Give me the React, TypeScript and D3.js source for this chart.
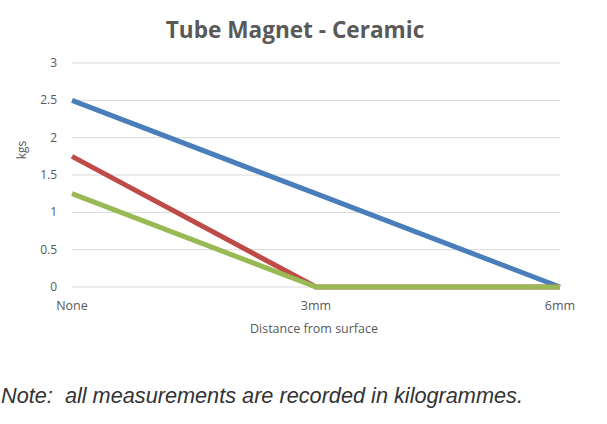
import React, { useRef, useEffect } from 'react';
import * as d3 from 'd3';

const categories = ['None', '3mm', '6mm'];
const yTicks = [0, 0.5, 1, 1.5, 2, 2.5, 3];
const blueSeries = [2.5, 1.25, 0];
const redSeries = [1.75, 0, 0];
const greenSeries = [1.25, 0, 0];
const seriesColors = ['#4a7ebb', '#be4b48', '#98b954'];

function App() {
  const svgRef = useRef<SVGSVGElement>(null);

  useEffect(() => {
    const svg = d3.select(svgRef.current);
    svg.selectAll('*').remove();

    const width = 607;
    const height = 424;
    const margin = { top: 63, right: 47, bottom: 137, left: 72 };

    svg.attr('width', width).attr('height', height);

    const x = d3.scalePoint<string>()
      .domain(categories)
      .range([margin.left, width - margin.right]);

    const y = d3.scaleLinear()
      .domain([0, 3])
      .range([height - margin.bottom, margin.top]);

    const font = "'Open Sans', 'DejaVu Sans', sans-serif";

    // gridlines
    svg.append('g')
      .selectAll('line')
      .data(yTicks)
      .enter()
      .append('line')
      .attr('x1', margin.left)
      .attr('x2', width - margin.right)
      .attr('y1', d => y(d))
      .attr('y2', d => y(d))
      .attr('stroke', '#d9d9d9')
      .attr('stroke-width', 1);

    // y tick labels
    svg.append('g')
      .selectAll('text')
      .data(yTicks)
      .enter()
      .append('text')
      .attr('x', 57)
      .attr('y', d => y(d) + 4)
      .attr('text-anchor', 'end')
      .style('font-family', font)
      .style('font-size', '12px')
      .attr('fill', '#595959')
      .text(d => String(d));

    // x labels
    svg.append('g')
      .selectAll('text')
      .data(categories)
      .enter()
      .append('text')
      .attr('x', d => x(d)!)
      .attr('y', 310)
      .attr('text-anchor', 'middle')
      .style('font-family', font)
      .style('font-size', '12.5px')
      .attr('fill', '#595959')
      .text(d => d);

    const line = d3.line<number>()
      .x((d, i) => x(categories[i])!)
      .y(d => y(d));

    [blueSeries, redSeries, greenSeries].forEach((s, i) => {
      svg.append('path')
        .datum(s)
        .attr('d', line)
        .attr('fill', 'none')
        .attr('stroke', seriesColors[i])
        .attr('stroke-width', 5)
        .attr('stroke-linejoin', 'round');
    });

    // titles
    svg.append('text')
      .attr('x', 295)
      .attr('y', 38)
      .attr('text-anchor', 'middle')
      .style('font-family', font)
      .style('font-size', '22.6px')
      .style('font-weight', 'bold')
      .attr('fill', '#595959')
      .text('Tube Magnet - Ceramic');

    svg.append('text')
      .attr('x', 314)
      .attr('y', 333)
      .attr('text-anchor', 'middle')
      .style('font-family', font)
      .style('font-size', '12.5px')
      .attr('fill', '#595959')
      .text('Distance from surface');

    svg.append('text')
      .attr('transform', 'translate(26, 150) rotate(-90)')
      .attr('text-anchor', 'middle')
      .style('font-family', font)
      .style('font-size', '12px')
      .attr('fill', '#595959')
      .text('kgs');

    svg.append('text')
      .attr('x', 1)
      .attr('y', 403)
      .style('font-family', "'Liberation Sans', Arial, sans-serif")
      .style('font-size', '21.7px')
      .style('font-style', 'italic')
      .attr('fill', '#333333')
      .attr('xml:space', 'preserve')
      .text('Note:  all measurements are recorded in kilogrammes.');
  }, []);

  return (
    <svg ref={svgRef} style={{ position: 'absolute', left: 0, top: 0, background: '#fff' }}></svg>
  );
}

export default App;
